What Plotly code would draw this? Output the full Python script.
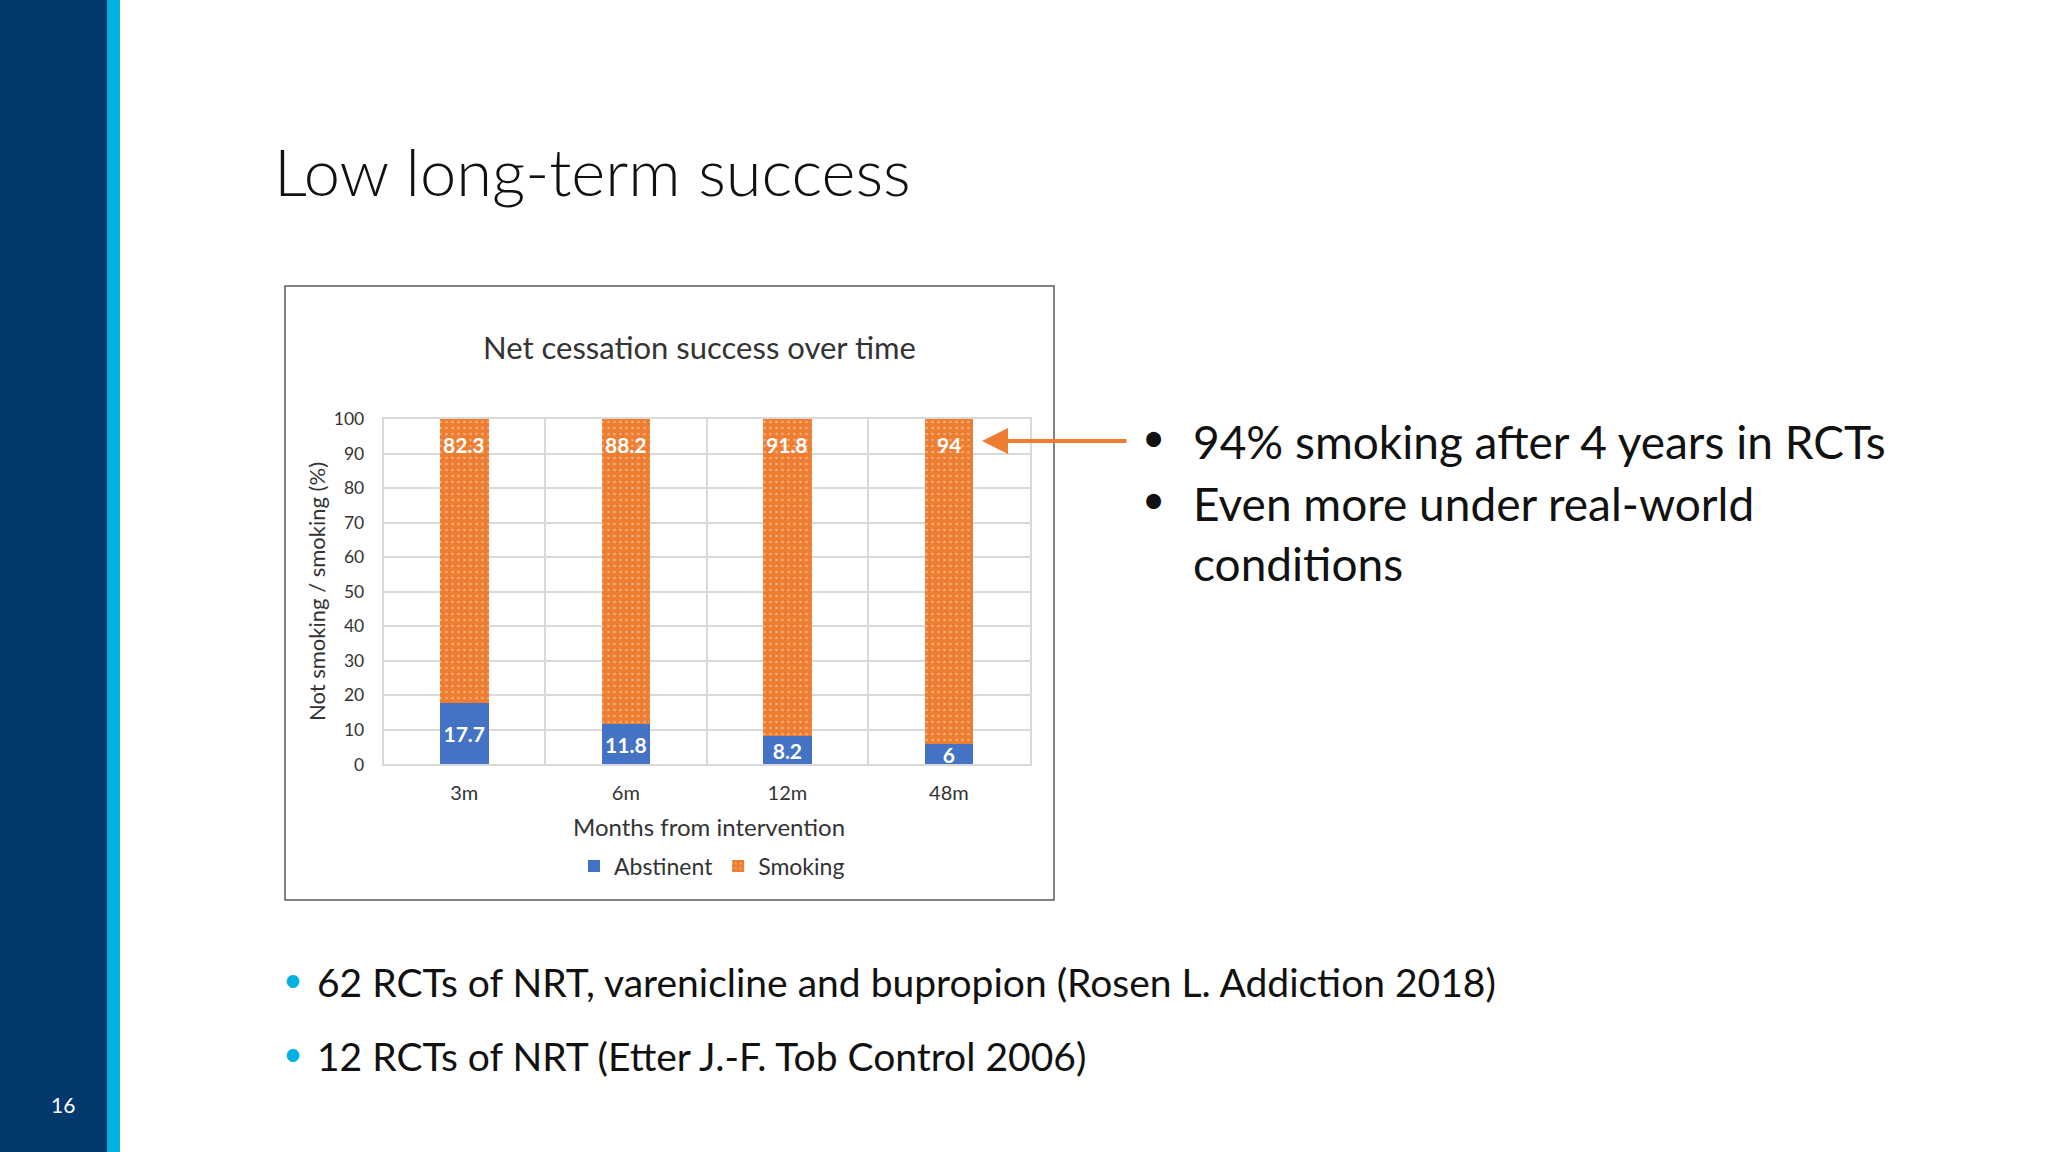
import plotly.graph_objects as go

categories = ["3m", "6m", "12m", "48m"]
abstinent = [17.7, 11.8, 8.2, 6]
smoking = [82.3, 88.2, 91.8, 94]
y_ticks = list(range(0, 101, 10))

W, H = 2048, 1152
def px(x):
    return x / W
def py(y):
    return 1 - y / H

FONT = "Lato, Carlito, Calibri, sans-serif"
BLUE = "#4472C4"
ORANGE = "#ED7D31"
TXT = "#333333"
LABEL_FONT = dict(family=FONT, size=21, color="white", weight="bold")

fig = go.Figure()
fig.add_trace(go.Bar(
    x=categories, y=abstinent, name="Abstinent",
    marker=dict(color=BLUE, line=dict(width=0)),
    text=[f"{v:g}" for v in abstinent], texttemplate="%{text}",
    textposition="inside", insidetextanchor="middle", constraintext="none",
    textangle=0, textfont=LABEL_FONT, hoverinfo="skip",
))
fig.add_trace(go.Bar(
    x=categories, y=smoking, name="Smoking",
    marker=dict(color=ORANGE, line=dict(width=0),
                pattern=dict(shape=".", fgcolor="#FCE4D0", size=6, solidity=0.14)),
    hoverinfo="skip",
))

shapes = [
    dict(type="rect", xref="paper", yref="paper", x0=px(0), x1=px(107), y0=0, y1=1,
         fillcolor="#03396C", line=dict(width=0), layer="below"),
    dict(type="rect", xref="paper", yref="paper", x0=px(107), x1=px(120), y0=0, y1=1,
         fillcolor="#00B2E3", line=dict(width=0), layer="below"),
    dict(type="rect", xref="paper", yref="paper", x0=px(285), x1=px(1054), y0=py(900), y1=py(286),
         fillcolor="rgba(0,0,0,0)", line=dict(color="#595959", width=1.5), layer="below"),
]

ann = []
# smoking data labels at the inside end of each stacked bar
for c, a, s in zip(categories, abstinent, smoking):
    ann.append(dict(text=f"{s:g}", x=c, y=a + s, xref="x", yref="y",
                    xanchor="center", yanchor="middle", yshift=-25, showarrow=False,
                    font=LABEL_FONT))
ann.append(dict(text="Low long-term success", x=px(272), y=py(171), xref="paper", yref="paper",
                xanchor="left", yanchor="middle", showarrow=False,
                font=dict(family=FONT, size=65, color="#111111", weight=300)))
ann.append(dict(text="Net cessation success over time", x=px(699), y=py(347), xref="paper", yref="paper",
                xanchor="center", yanchor="middle", showarrow=False,
                font=dict(family=FONT, size=31, color=TXT)))
ann.append(dict(text="Not smoking / smoking (%)", x=px(316), y=py(592), xref="paper", yref="paper",
                xanchor="center", yanchor="middle", textangle=-90, showarrow=False,
                font=dict(family=FONT, size=22, color=TXT)))
ann.append(dict(text="Months from intervention", x=px(709), y=py(826), xref="paper", yref="paper",
                xanchor="center", yanchor="middle", showarrow=False,
                font=dict(family=FONT, size=24, color=TXT)))
ann.append(dict(text="", x=px(982), y=py(441), xref="paper", yref="paper",
                ax=146, ay=0, axref="pixel", ayref="pixel", showarrow=True,
                arrowhead=2, arrowsize=1.3, arrowwidth=4, arrowcolor=ORANGE, standoff=0))
right_lines = [("•", "94% smoking after 4 years in RCTs", 441),
               ("•", "Even more under real-world", 503),
               ("", "conditions", 564)]
for b, t, y in right_lines:
    if b:
        ann.append(dict(text=b, x=px(1153), y=py(y - 4), xref="paper", yref="paper",
                        xanchor="center", yanchor="middle", showarrow=False,
                        font=dict(family=FONT, size=40, color="#111111")))
    ann.append(dict(text=t, x=px(1191), y=py(y), xref="paper", yref="paper",
                    xanchor="left", yanchor="middle", showarrow=False,
                    font=dict(family=FONT, size=46, color="#111111")))
bottom_lines = [("62 RCTs of NRT, varenicline and bupropion (Rosen L. Addiction 2018)", 982),
                ("12 RCTs of NRT (Etter J.-F. Tob Control 2006)", 1056)]
for t, y in bottom_lines:
    ann.append(dict(text="•", x=px(293), y=py(y - 4), xref="paper", yref="paper",
                    xanchor="center", yanchor="middle", showarrow=False,
                    font=dict(family=FONT, size=34, color="#00B2E3")))
    ann.append(dict(text=t, x=px(315), y=py(y), xref="paper", yref="paper",
                    xanchor="left", yanchor="middle", showarrow=False,
                    font=dict(family=FONT, size=39, color="#111111")))
ann.append(dict(text="16", x=px(63), y=py(1104), xref="paper", yref="paper",
                xanchor="center", yanchor="middle", showarrow=False,
                font=dict(family=FONT, size=21, color="white")))

fig.update_layout(
    width=W, height=H, margin=dict(l=0, r=0, t=0, b=0, autoexpand=False),
    paper_bgcolor="white", plot_bgcolor="white",
    barmode="stack", bargap=0.7,
    uniformtext=dict(minsize=21, mode="show"),
    xaxis=dict(domain=[px(383.5), px(1029.7)], type="category", tickson="boundaries",
               showgrid=True, gridcolor="#D9D9D9", gridwidth=1.5,
               showline=True, linecolor="#D9D9D9", linewidth=1.5, mirror=True,
               ticks="", ticklabelstandoff=10, automargin=False,
               tickfont=dict(family=FONT, size=20, color=TXT), fixedrange=True),
    yaxis=dict(domain=[py(764.4), py(419)], range=[0, 100], tickvals=y_ticks,
               showgrid=True, gridcolor="#D9D9D9", gridwidth=1.5, zeroline=False,
               showline=True, linecolor="#D9D9D9", linewidth=1.5, mirror=True,
               ticks="", ticklabelstandoff=14, automargin=False,
               tickfont=dict(family=FONT, size=17.5, color=TXT), fixedrange=True),
    legend=dict(orientation="h", x=px(712), y=py(866), xanchor="center", yanchor="middle",
                traceorder="normal",
                font=dict(family=FONT, size=23, color=TXT), bgcolor="rgba(0,0,0,0)",
                itemwidth=30, tracegroupgap=0),
    shapes=shapes, annotations=ann, showlegend=True,
)

fig.write_html("out.html", config={"displayModeBar": False})
